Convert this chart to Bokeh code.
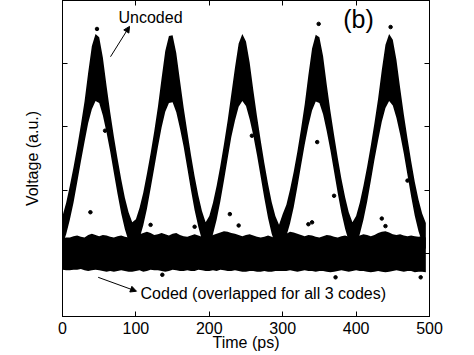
import numpy as np
from bokeh.plotting import figure
from bokeh.models import (Range1d, LinearAxis, FixedTicker, Arrow, NormalHead,
                          Label, ColumnDataSource)
from bokeh.embed import file_html
from bokeh.resources import INLINE

# ---- data (time in ps, voltage in a.u.) ----
time_ps = [0, 5, 10, 15, 20, 25, 30, 35, 40, 45, 50, 55, 60, 65, 70, 75, 80, 85, 90, 95,
           100, 105, 110, 115, 120, 125, 130, 135, 140, 145, 150, 155, 160, 165, 170, 175, 180, 185, 190, 195,
           200, 205, 210, 215, 220, 225, 230, 235, 240, 245, 250, 255, 260, 265, 270, 275, 280, 285, 290, 295,
           300, 305, 310, 315, 320, 325, 330, 335, 340, 345, 350, 355, 360, 365, 370, 375, 380, 385, 390, 395,
           400, 405, 410, 415, 420, 425, 430, 435, 440, 445, 450, 455, 460, 465, 470, 475, 480, 485, 490, 495]

# uncoded trace: centre of the dot cloud and its half thickness
uncoded_mid = [1.36, 1.55, 1.80, 2.08, 2.40, 2.74, 3.08, 3.46, 3.78, 3.94, 3.90, 3.64, 3.28, 2.92, 2.56, 2.22, 1.90, 1.63, 1.42, 1.28,
               1.33, 1.48, 1.70, 1.98, 2.30, 2.64, 3.00, 3.38, 3.72, 3.91, 3.92, 3.70, 3.36, 3.00, 2.64, 2.28, 1.95, 1.67, 1.44, 1.28,
               1.36, 1.55, 1.80, 2.10, 2.44, 2.80, 3.18, 3.52, 3.82, 3.94, 3.84, 3.57, 3.22, 2.86, 2.50, 2.15, 1.83, 1.56, 1.36, 1.24,
               1.40, 1.52, 1.74, 2.01, 2.33, 2.68, 3.04, 3.42, 3.75, 3.93, 3.90, 3.66, 3.30, 2.94, 2.58, 2.23, 1.91, 1.64, 1.42, 1.28,
               1.36, 1.55, 1.80, 2.09, 2.42, 2.77, 3.12, 3.49, 3.80, 3.94, 3.86, 3.60, 3.25, 2.89, 2.53, 2.18, 1.86, 1.60, 1.40, 1.27]
uncoded_half = [0.23, 0.25, 0.27, 0.28, 0.28, 0.29, 0.32, 0.40, 0.50, 0.53, 0.52, 0.46, 0.37, 0.31, 0.29, 0.28, 0.27, 0.25, 0.23, 0.21,
                0.21, 0.24, 0.26, 0.28, 0.28, 0.29, 0.32, 0.39, 0.48, 0.53, 0.53, 0.47, 0.38, 0.31, 0.29, 0.28, 0.27, 0.25, 0.23, 0.21,
                0.23, 0.25, 0.27, 0.28, 0.29, 0.30, 0.34, 0.42, 0.50, 0.53, 0.51, 0.45, 0.36, 0.31, 0.29, 0.28, 0.27, 0.25, 0.23, 0.21,
                0.22, 0.25, 0.27, 0.28, 0.28, 0.29, 0.32, 0.40, 0.49, 0.53, 0.52, 0.46, 0.37, 0.31, 0.29, 0.28, 0.27, 0.25, 0.23, 0.21,
                0.23, 0.25, 0.27, 0.28, 0.28, 0.29, 0.33, 0.41, 0.50, 0.53, 0.52, 0.46, 0.37, 0.31, 0.29, 0.28, 0.27, 0.25, 0.23, 0.21]

# coded traces (all 3 codes overlapped): upper and lower edge of the dot cloud
coded_hi = [1.24, 1.25, 1.25, 1.27, 1.28, 1.26, 1.25, 1.29, 1.31, 1.29, 1.27, 1.29, 1.28, 1.26, 1.25, 1.27, 1.28, 1.26, 1.25, 1.24,
            1.27, 1.30, 1.32, 1.34, 1.32, 1.29, 1.30, 1.32, 1.30, 1.28, 1.31, 1.32, 1.29, 1.27, 1.26, 1.28, 1.30, 1.28, 1.26, 1.25,
            1.27, 1.29, 1.31, 1.33, 1.35, 1.34, 1.32, 1.31, 1.29, 1.27, 1.29, 1.30, 1.28, 1.26, 1.25, 1.26, 1.28, 1.26, 1.24, 1.23,
            1.28, 1.31, 1.34, 1.33, 1.31, 1.29, 1.27, 1.29, 1.28, 1.26, 1.25, 1.27, 1.29, 1.28, 1.26, 1.25, 1.27, 1.28, 1.26, 1.25,
            1.27, 1.28, 1.30, 1.29, 1.27, 1.29, 1.32, 1.34, 1.35, 1.33, 1.30, 1.29, 1.30, 1.28, 1.27, 1.28, 1.27, 1.26, 1.27, 1.25]
coded_lo = [0.74, 0.73, 0.73, 0.74, 0.74, 0.75, 0.73, 0.72, 0.73, 0.74, 0.73, 0.72, 0.71, 0.72, 0.71, 0.72, 0.73, 0.72, 0.71, 0.71,
            0.72, 0.73, 0.71, 0.72, 0.74, 0.73, 0.73, 0.72, 0.71, 0.72, 0.74, 0.73, 0.72, 0.72, 0.73, 0.72, 0.72, 0.74, 0.73, 0.72,
            0.72, 0.73, 0.72, 0.74, 0.73, 0.72, 0.72, 0.73, 0.72, 0.71, 0.71, 0.72, 0.72, 0.71, 0.71, 0.72, 0.71, 0.71, 0.72, 0.72,
            0.72, 0.72, 0.73, 0.72, 0.71, 0.72, 0.73, 0.72, 0.72, 0.71, 0.72, 0.72, 0.71, 0.70, 0.71, 0.72, 0.73, 0.72, 0.71, 0.72,
            0.73, 0.72, 0.72, 0.71, 0.70, 0.71, 0.72, 0.71, 0.70, 0.71, 0.72, 0.73, 0.72, 0.71, 0.72, 0.72, 0.70, 0.71, 0.71, 0.70]

# isolated dots visible outside the dense bands
stray_t = [38, 58, 136, 228, 258, 347, 349, 447, 370, 470, 488, 435, 340, 372, 47, 120, 180, 240, 335, 440]
stray_v = [1.65, 2.94, 0.66, 1.62, 2.86, 2.76, 4.63, 4.58, 1.91, 2.15, 0.62, 1.55, 1.49, 0.62, 4.55, 1.45, 1.42, 1.44, 1.46, 1.43]

x_ticks = [0, 100, 200, 300, 400, 500]
y_ticks = [0, 1, 2, 3, 4, 5]

FONT = "Liberation Sans"

unc_lo = [m - h for m, h in zip(uncoded_mid, uncoded_half)]
unc_hi = [m + h for m, h in zip(uncoded_mid, uncoded_half)]
src = ColumnDataSource(dict(t=time_ps, ulo=unc_lo, uhi=unc_hi, clo=coded_lo, chi=coded_hi))

p = figure(width=474, height=355, output_backend="svg", toolbar_location=None,
           x_range=Range1d(0, 500), y_range=Range1d(0, 5),
           min_border_left=62, min_border_right=45, min_border_top=0, min_border_bottom=39,
           x_axis_location=None, y_axis_location=None)
p.xgrid.grid_line_color = None
p.ygrid.grid_line_color = None
p.outline_line_color = "black"
p.background_fill_color = "white"
p.border_fill_color = "white"

p.varea(x="t", y1="ulo", y2="uhi", source=src, fill_color="black")
p.varea(x="t", y1="clo", y2="chi", source=src, fill_color="black")
p.scatter(stray_t, stray_v, size=3.5, marker="circle", color="black")

def make_axis(ticks, show_labels):
    ax = LinearAxis(ticker=FixedTicker(ticks=ticks))
    ax.axis_line_color = "black"
    ax.major_tick_line_color = "black"
    ax.major_tick_in = 5
    ax.major_tick_out = 0
    ax.minor_tick_line_color = None
    if show_labels:
        ax.major_label_text_font = FONT
        ax.major_label_text_font_size = "16px"
        ax.major_label_text_color = "black"
        ax.major_label_standoff = 5
    else:
        ax.major_label_overrides = {t: "" for t in ticks}
        ax.major_label_text_font_size = "1px"
        ax.major_label_standoff = 0
    ax.axis_label_text_font = FONT
    ax.axis_label_text_font_size = "16px"
    ax.axis_label_text_font_style = "normal"
    ax.axis_label_text_color = "black"
    return ax

bottom = make_axis(x_ticks, True)
bottom.axis_label = "Time (ps)"
bottom.axis_label_standoff = -3
p.add_layout(bottom, "below")

left = make_axis(y_ticks, False)
left.axis_label = "Voltage (a.u.)"
left.axis_label_standoff = 22
p.add_layout(left, "left")

p.add_layout(make_axis(x_ticks, False), "above")
p.add_layout(make_axis(y_ticks, False), "right")

p.add_layout(Label(x=76.3, y=4.73, text="Uncoded", text_font=FONT, text_font_size="16px",
                   text_align="left", text_baseline="middle", text_color="black"))
p.add_layout(Label(x=106.3, y=0.36, text="Coded (overlapped for all 3 codes)", text_font=FONT,
                   text_font_size="16px", text_align="left", text_baseline="middle", text_color="black"))
p.add_layout(Label(x=382.5, y=4.70, text="(b)", text_font=FONT, text_font_size="25px",
                   text_align="left", text_baseline="middle", text_color="black"))

p.add_layout(Arrow(x_start=65.4, y_start=4.11, x_end=91.3, y_end=4.59, line_color="black", line_width=1,
                   end=NormalHead(size=6, fill_color="black", line_color="black")))
p.add_layout(Arrow(x_start=48.6, y_start=0.62, x_end=100.8, y_end=0.40, line_color="black", line_width=1,
                   end=NormalHead(size=6, fill_color="black", line_color="black")))

open("out.html", "w").write(file_html(p, INLINE))
